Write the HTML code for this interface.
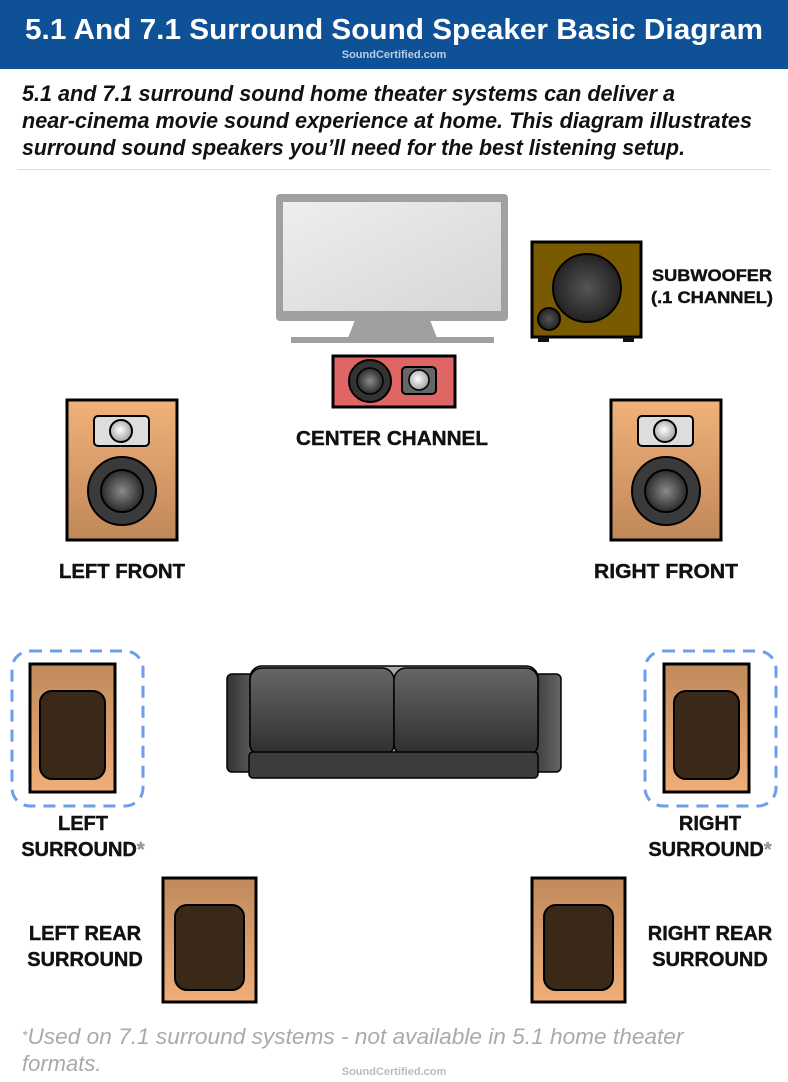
<!DOCTYPE html>
<html><head><meta charset="utf-8"><style>
html,body{margin:0;padding:0;background:#fff;width:788px;height:1082px;overflow:hidden}
svg{display:block}
text{font-family:"Liberation Sans",sans-serif}
</style></head><body>
<svg width="788" height="1082" viewBox="0 0 788 1082" xmlns="http://www.w3.org/2000/svg">
<defs>
<linearGradient id="wood" x1="0" y1="0" x2="0" y2="1"><stop offset="0" stop-color="#f0b27a"/><stop offset="1" stop-color="#c08758"/></linearGradient>
<linearGradient id="wood2" x1="0" y1="0" x2="0" y2="1"><stop offset="0" stop-color="#c08a5c"/><stop offset="1" stop-color="#f0ae78"/></linearGradient>
<radialGradient id="cone" cx="0.5" cy="0.5" r="0.5"><stop offset="0" stop-color="#8a8a8a"/><stop offset="1" stop-color="#2a2a2a"/></radialGradient>
<radialGradient id="cone2" cx="0.5" cy="0.5" r="0.5"><stop offset="0" stop-color="#555"/><stop offset="1" stop-color="#222"/></radialGradient>
<radialGradient id="tw" cx="0.45" cy="0.45" r="0.6"><stop offset="0" stop-color="#fff"/><stop offset="1" stop-color="#999"/></radialGradient>
<linearGradient id="sofa" x1="0" y1="0" x2="0" y2="1"><stop offset="0" stop-color="#666"/><stop offset="1" stop-color="#2e2e2e"/></linearGradient>
<linearGradient id="arm" x1="0" y1="0" x2="1" y2="0"><stop offset="0" stop-color="#333"/><stop offset="1" stop-color="#666"/></linearGradient>
<linearGradient id="scr" x1="0" y1="0" x2="1" y2="1"><stop offset="0" stop-color="#eee"/><stop offset="1" stop-color="#d6d6d6"/></linearGradient>
</defs>
<rect x="0" y="0" width="788" height="69" fill="#0f5196"/>
<text x="394" y="39" text-anchor="middle" font-size="29" font-weight="bold" fill="#fff" textLength="738" lengthAdjust="spacingAndGlyphs">5.1 And 7.1 Surround Sound Speaker Basic Diagram</text>
<text x="394" y="58" text-anchor="middle" font-size="11" font-weight="bold" fill="#b9cde6">SoundCertified.com</text>
<g font-size="22" font-style="italic" font-weight="bold" fill="#111">
<text x="22" y="101" textLength="653" lengthAdjust="spacingAndGlyphs">5.1 and 7.1 surround sound home theater systems can deliver a</text>
<text x="22" y="128" textLength="730" lengthAdjust="spacingAndGlyphs">near-cinema movie sound experience at home. This diagram illustrates</text>
<text x="22" y="155" textLength="663" lengthAdjust="spacingAndGlyphs">surround sound speakers you’ll need for the best listening setup.</text>
</g>
<rect x="17" y="169" width="754" height="1" fill="#ddd"/>
<!-- TV -->
<rect x="276" y="194" width="232" height="127" rx="4" fill="#a0a0a0"/>
<rect x="283" y="202" width="218" height="109" fill="url(#scr)"/>
<polygon points="355,320 430,320 437,338 348,338" fill="#a0a0a0"/>
<rect x="291" y="337" width="203" height="6" fill="#a0a0a0"/>
<!-- sub -->
<rect x="532" y="242" width="109" height="95" fill="#7a5a00" stroke="#000" stroke-width="3"/>
<rect x="538" y="337" width="11" height="5" fill="#111"/><rect x="623" y="337" width="11" height="5" fill="#111"/>
<circle cx="587" cy="288" r="34" fill="url(#cone2)" stroke="#000" stroke-width="2"/>
<circle cx="549" cy="319" r="11" fill="url(#cone2)" stroke="#000" stroke-width="2"/>
<!-- center -->
<rect x="333" y="356" width="122" height="51" fill="#e06666" stroke="#000" stroke-width="3"/>
<circle cx="370" cy="381" r="21" fill="#333" stroke="#000" stroke-width="2"/>
<circle cx="370" cy="381" r="13" fill="url(#cone)" stroke="#000" stroke-width="1.5"/>
<rect x="402" y="367" width="34" height="27" rx="4" fill="#666" stroke="#000" stroke-width="2"/>
<circle cx="419" cy="380" r="10" fill="url(#tw)" stroke="#000" stroke-width="1.5"/>
<!-- front speakers -->
<g id="fs">
<rect x="67" y="400" width="110" height="140" fill="url(#wood)" stroke="#000" stroke-width="3"/>
<rect x="94" y="416" width="55" height="30" rx="4" fill="#ddd" stroke="#000" stroke-width="2"/>
<circle cx="121" cy="431" r="11" fill="url(#tw)" stroke="#000" stroke-width="2"/>
<circle cx="122" cy="491" r="34" fill="#3a3a3a" stroke="#000" stroke-width="2"/>
<circle cx="122" cy="491" r="21" fill="url(#cone)" stroke="#000" stroke-width="2"/>
</g>
<use href="#fs" x="544"/>
<!-- surrounds -->
<rect x="12" y="651" width="131" height="155" rx="18" fill="none" stroke="#6d9eeb" stroke-width="3" stroke-dasharray="12 8"/>
<rect x="645" y="651" width="131" height="155" rx="18" fill="none" stroke="#6d9eeb" stroke-width="3" stroke-dasharray="12 8"/>
<g id="ss">
<rect x="30" y="664" width="85" height="128" fill="url(#wood2)" stroke="#000" stroke-width="3"/>
<rect x="40" y="691" width="65" height="88" rx="12" fill="#3a2818" stroke="#000" stroke-width="2"/>
</g>
<use href="#ss" x="634"/>
<!-- rear -->
<g id="rs">
<rect x="163" y="878" width="93" height="124" fill="url(#wood2)" stroke="#000" stroke-width="3"/>
<rect x="175" y="905" width="69" height="85" rx="12" fill="#3a2818" stroke="#000" stroke-width="2"/>
</g>
<use href="#rs" x="369"/>
<!-- sofa -->
<rect x="227" y="674" width="33" height="98" rx="5" fill="url(#arm)" stroke="#000" stroke-width="1.5"/>
<rect x="528" y="674" width="33" height="98" rx="5" fill="url(#arm)" stroke="#000" stroke-width="1.5"/>
<rect x="250" y="666" width="288" height="90" rx="12" fill="#aaa" stroke="#000" stroke-width="1.5"/>
<rect x="250" y="668" width="144" height="88" rx="12" fill="url(#sofa)" stroke="#000" stroke-width="1.5"/>
<rect x="394" y="668" width="144" height="88" rx="12" fill="url(#sofa)" stroke="#000" stroke-width="1.5"/>
<rect x="249" y="752" width="289" height="26" rx="4" fill="#3c3c3c" stroke="#000" stroke-width="1.5"/>
<!-- labels -->
<g font-size="20" font-weight="bold" fill="#111" text-anchor="middle" stroke="#111" stroke-width="0.4">
<text x="712" y="281" font-size="17" textLength="120" lengthAdjust="spacingAndGlyphs">SUBWOOFER</text>
<text x="712" y="303" font-size="17" textLength="122" lengthAdjust="spacingAndGlyphs">(.1 CHANNEL)</text>
<text x="392" y="445" textLength="192" lengthAdjust="spacingAndGlyphs">CENTER CHANNEL</text>
<text x="122" y="578" textLength="126" lengthAdjust="spacingAndGlyphs">LEFT FRONT</text>
<text x="666" y="578" textLength="144" lengthAdjust="spacingAndGlyphs">RIGHT FRONT</text>
<text x="83" y="830">LEFT</text>
<text x="83" y="856">SURROUND<tspan fill="#999" stroke="#999">*</tspan></text>
<text x="710" y="830">RIGHT</text>
<text x="710" y="856">SURROUND<tspan fill="#999" stroke="#999">*</tspan></text>
<text x="85" y="940">LEFT REAR</text>
<text x="85" y="966">SURROUND</text>
<text x="710" y="940">RIGHT REAR</text>
<text x="710" y="966">SURROUND</text>
</g>
<g font-size="22" font-style="italic" fill="#aaa">
<text x="22" y="1044"><tspan font-size="14" dy="-4">*</tspan><tspan dy="4" textLength="656" lengthAdjust="spacingAndGlyphs">Used on 7.1 surround systems - not available in 5.1 home theater</tspan></text>
<text x="22" y="1071">formats.</text>
</g>
<text x="394" y="1075" text-anchor="middle" font-size="11" font-weight="bold" fill="#bbb">SoundCertified.com</text>
</svg>
</body></html>
